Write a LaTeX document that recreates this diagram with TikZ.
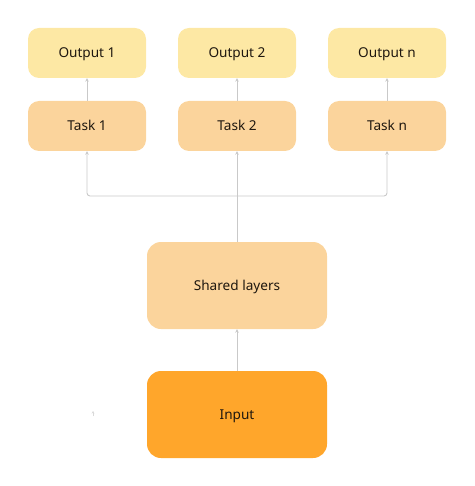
\documentclass[tikz,border=0pt]{standalone}
\usepackage{fontspec}
\setmainfont{Noto Sans}
\usetikzlibrary{arrows.meta}
\definecolor{outc}{HTML}{FDE8A4}
\definecolor{taskc}{HTML}{FBD49C}
\definecolor{inc}{HTML}{FFA62B}
\definecolor{linec}{HTML}{C9C9C9}
\definecolor{txt}{HTML}{1E170F}
\begin{document}
\begin{tikzpicture}[x=1pt,y=-1pt,
  box/.style={rounded corners=11pt, inner sep=0pt, text=txt, font=\fontsize{13.6}{16}\selectfont, text height=9.6pt, text depth=0pt},
  small/.style={box, minimum width=118pt, minimum height=50pt},
  big/.style={box, rounded corners=14pt, minimum width=180pt, minimum height=87pt},
  conn/.style={draw=linec, line width=0.9pt, -{Stealth[length=3.5pt,width=3.5pt]}}]
\useasboundingbox (0,0) rectangle (474,486);
\node[small, fill=outc] (o1) at (87,53) {Output 1};
\node[small, fill=outc] (o2) at (237,53) {Output 2};
\node[small, fill=outc] (on) at (387,53) {Output n};
\node[small, fill=taskc] (t1) at (87,126) {Task 1};
\node[small, fill=taskc] (t2) at (237,126) {Task 2};
\node[small, fill=taskc] (tn) at (387,126) {Task n};
\node[big, fill=taskc] (sh) at (237,285.5) {Shared layers};
\node[big, fill=inc] (in) at (237,414.5) {Input};
\coordinate (j) at (237,196);
\coordinate (s0) at (93,416);
\coordinate (s1) at (93,411);
\draw[conn] (t1) -- (o1);
\draw[conn] (t2) -- (o2);
\draw[conn] (tn) -- (on);
\draw[conn] (in) -- (sh);
\draw[conn] (sh) -- (t2);
\draw[conn, rounded corners=3pt] (j) -| (t1);
\draw[conn, rounded corners=3pt] (j) -| (tn);
\draw[draw=linec!70, line width=0.5pt, -{Stealth[length=2.5pt,width=2.5pt]}] (s0) -- (s1);
\end{tikzpicture}
\end{document}
